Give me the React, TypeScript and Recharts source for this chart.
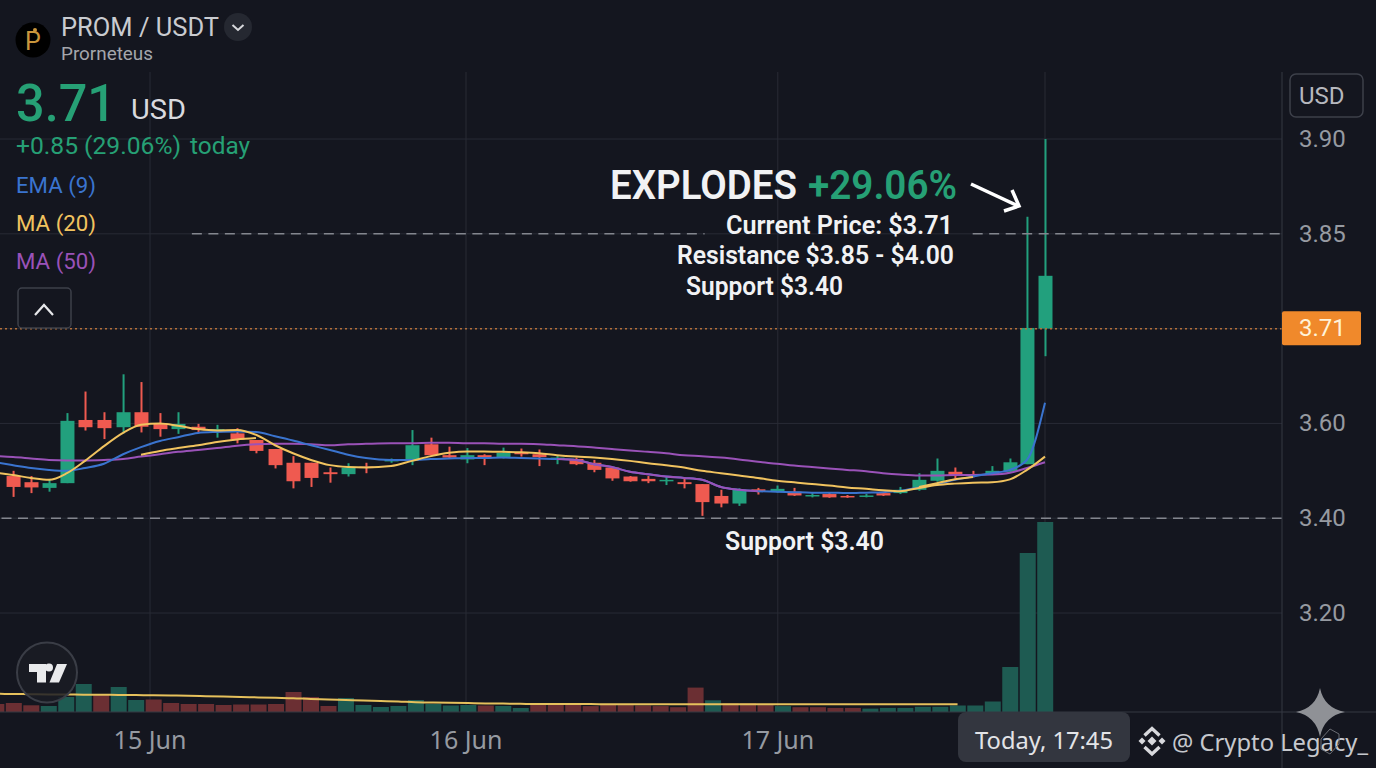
import React from "react";
import { Bar, CartesianGrid, ComposedChart, Line, ReferenceLine, XAxis, YAxis } from "recharts";

// ---- price-axis ticks: the reference's axis is evenly spaced per label, not per price
const priceTicks = [3.2, 3.4, 3.6, 3.71, 3.85, 3.9];
const supportPrice = 3.4;
const lastPrice = 3.71;
const resistancePrice = 3.85;

// ---- time axis: hours since 15 Jun 00:00
const dateTickHours = [0, 24.16, 48];
const dateTickLabels = ["15 Jun", "16 Jun", "17 Jun"];
const nowHour = 68.43;
const nowLabel = "Today, 17:45";
const hourDomain = [-11.47, 86.55];

// ---- candles
const candleHours = [-10.47, -9.1, -7.72, -6.35, -4.97, -3.52, -2.06, -0.69, 0.76, 2.14, 3.67, 5.12, 6.65, 8.1, 9.56, 10.93, 12.31, 13.76, 15.14, 16.51, 18.43, 20.03, 21.48, 22.86, 24.23, 25.54, 26.99, 28.36, 29.74, 31.12, 32.57, 33.94, 35.32, 36.7, 38.07, 39.45, 40.83, 42.2, 43.65, 45.03, 46.48, 47.94, 49.24, 50.61, 51.91, 53.29, 54.74, 56.04, 57.34, 58.79, 60.17, 61.54, 62.92, 64.37, 65.75, 67.05, 68.43];
const opens = [3.489, 3.476, 3.464, 3.474, 3.604, 3.604, 3.592, 3.613, 3.6, 3.588, 3.593, 3.583, 3.579, 3.565, 3.546, 3.517, 3.517, 3.497, 3.493, 3.509, 3.521, 3.523, 3.556, 3.533, 3.524, 3.533, 3.528, 3.539, 3.535, 3.526, 3.525, 3.517, 3.507, 3.488, 3.483, 3.478, 3.476, 3.472, 3.447, 3.431, 3.461, 3.457, 3.456, 3.446, 3.451, 3.447, 3.445, 3.453, 3.453, 3.46, 3.479, 3.498, 3.493, 3.493, 3.498, 3.514, 3.71];
const closes = [3.466, 3.465, 3.474, 3.603, 3.592, 3.59, 3.613, 3.593, 3.588, 3.599, 3.586, 3.588, 3.566, 3.542, 3.512, 3.478, 3.485, 3.493, 3.507, 3.506, 3.523, 3.554, 3.533, 3.528, 3.533, 3.526, 3.538, 3.535, 3.529, 3.528, 3.514, 3.502, 3.484, 3.478, 3.478, 3.481, 3.472, 3.434, 3.431, 3.46, 3.457, 3.462, 3.448, 3.449, 3.444, 3.445, 3.448, 3.448, 3.46, 3.481, 3.5, 3.489, 3.49, 3.5, 3.518, 3.711, 3.788];
const highs = [3.5, 3.489, 3.483, 3.612, 3.637, 3.613, 3.657, 3.648, 3.612, 3.613, 3.599, 3.597, 3.59, 3.565, 3.546, 3.531, 3.517, 3.507, 3.516, 3.517, 3.526, 3.586, 3.57, 3.551, 3.548, 3.535, 3.549, 3.547, 3.545, 3.533, 3.528, 3.523, 3.507, 3.489, 3.489, 3.489, 3.484, 3.472, 3.46, 3.463, 3.464, 3.469, 3.464, 3.453, 3.454, 3.449, 3.451, 3.454, 3.466, 3.495, 3.526, 3.507, 3.5, 3.51, 3.526, 3.859, 3.9];
const lows = [3.445, 3.453, 3.456, 3.474, 3.585, 3.567, 3.579, 3.581, 3.572, 3.578, 3.582, 3.57, 3.558, 3.537, 3.505, 3.463, 3.466, 3.475, 3.488, 3.495, 3.517, 3.512, 3.531, 3.526, 3.516, 3.512, 3.526, 3.53, 3.51, 3.514, 3.512, 3.497, 3.479, 3.477, 3.474, 3.47, 3.463, 3.405, 3.423, 3.426, 3.45, 3.454, 3.447, 3.444, 3.443, 3.443, 3.444, 3.447, 3.451, 3.458, 3.477, 3.484, 3.486, 3.491, 3.497, 3.514, 3.678];

// ---- moving averages, one value per candle
const ema9 = [3.512, 3.506, 3.502, 3.5, 3.506, 3.515, 3.535, 3.55, 3.563, 3.571, 3.58, 3.582, 3.583, 3.582, 3.573, 3.564, 3.554, 3.544, 3.534, 3.527, 3.523, 3.523, 3.525, 3.526, 3.527, 3.527, 3.528, 3.527, 3.526, 3.525, 3.523, 3.514, 3.508, 3.498, 3.493, 3.488, 3.485, 3.481, 3.466, 3.46, 3.457, 3.456, 3.455, 3.454, 3.454, 3.453, 3.454, 3.455, 3.458, 3.465, 3.472, 3.481, 3.488, 3.495, 3.502, 3.523, 3.624];
const ma20 = [3.491, 3.485, 3.481, 3.495, 3.521, 3.552, 3.58, 3.597, 3.6, 3.595, 3.588, 3.585, 3.586, 3.576, 3.554, 3.537, 3.523, 3.512, 3.508, 3.507, 3.51, 3.521, 3.531, 3.538, 3.541, 3.541, 3.54, 3.539, 3.537, 3.533, 3.53, 3.528, 3.525, 3.521, 3.516, 3.512, 3.507, 3.5, 3.495, 3.49, 3.485, 3.479, 3.476, 3.472, 3.469, 3.465, 3.462, 3.459, 3.457, 3.464, 3.47, 3.473, 3.475, 3.476, 3.482, 3.502, 3.53];
const ma50 = [3.529, 3.526, 3.523, 3.522, 3.522, 3.523, 3.525, 3.53, 3.535, 3.54, 3.544, 3.548, 3.553, 3.556, 3.557, 3.557, 3.556, 3.554, 3.556, 3.557, 3.558, 3.558, 3.559, 3.559, 3.558, 3.558, 3.557, 3.557, 3.556, 3.554, 3.552, 3.549, 3.546, 3.543, 3.54, 3.537, 3.533, 3.531, 3.528, 3.524, 3.519, 3.515, 3.511, 3.508, 3.505, 3.502, 3.499, 3.495, 3.492, 3.49, 3.49, 3.491, 3.491, 3.492, 3.496, 3.506, 3.518];
// the three averages enter from just left of the visible window
const leadInHour = -11.85;
const leadInEma = 3.518;
const leadInMa20 = 3.496;
const leadInMa50 = 3.531;
// the picture also shows short doubled strands of MA (20) and MA (50)
const ma20SecondStrand: Record<number, number> = { 7: 3.534, 8: 3.542, 9: 3.548, 10: 3.554, 11: 3.561, 12: 3.566, 13: 3.569, 49: 3.466, 50: 3.474, 51: 3.482, 52: 3.487 };
const ma50SecondStrand: Record<number, number> = { 29: 3.525, 30: 3.523, 31: 3.514, 32: 3.508, 33: 3.498, 34: 3.493, 35: 3.488, 36: 3.485, 37: 3.481, 38: 3.466, 39: 3.46, 40: 3.457 };

// ---- volume pane
const firstVolumeHour = -11.77;
const volumeStepHours = 1.3366;
const volumes = [8, 9, 6.7, 6, 15, 28, 17, 25, 12, 12.5, 9, 8, 8, 7, 7.5, 7.5, 8, 20, 15, 6, 14, 7, 5, 6, 12, 8, 6.5, 7, 6.5, 6, 4, 8.3, 7.6, 7.6, 5.9, 7.6, 6.9, 6.5, 5.9, 4.8, 24.4, 11.7, 8.6, 8.6, 6.9, 5.9, 4.8, 4.8, 4.1, 4.1, 3.4, 4.1, 4.1, 5.2, 5.2, 6.5, 6.5, 10.5, 45, 159, 190];
const volumeDirections = "rrrgggrggrrrrrrrrrrrggggggggrggrrrrrrrrrrgrrrgrrrrggggggggggg";
const volumeMa = [18.2, 18, 17.8, 17.6, 17.5, 17.3, 17.2, 17.1, 16.9, 16.8, 16.5, 16.2, 15.8, 15.4, 15, 14.6, 14.2, 13.8, 13, 12.6, 12, 11.5, 11, 10.5, 9.8, 9.5, 9.2, 8.9, 8.6, 8.4, 8.2, 8, 8, 7.9, 7.9, 7.8, 7.8, 7.8, 7.8, 7.8, 7.8, 7.8, 7.8, 7.7, 7.7, 7.7, 7.7, 7.7, 7.7, 7.7, 7.7, 7.7, 7.7, 7.7, 7.7, 7.7];

const C = {
  bg: "#14161f",
  grid: "#282b35",
  axisLine: "#353842",
  axisText: "#969921",
  up: "#22a07d",
  down: "#ef5a50",
  volUp: "#1e5b52",
  volDown: "#6b2f33",
  ema: "#3a74cf",
  ma20: "#f1c35f",
  ma50: "#9a52b8",
  dash: "#83868e",
  orange: "#f0892b",
  green: "#26a075",
  white: "#f1f2f4",
};
C.axisText = "#969aa1";
const SANS = "Roboto, sans-serif";
const NOTO = "'Noto Sans', sans-serif";

// maps a price to its place on the evenly spaced label axis
function toAxis(price: number): number {
  for (let i = 0; i < priceTicks.length - 1; i++) {
    if (price <= priceTicks[i + 1] || i === priceTicks.length - 2) {
      return i + (price - priceTicks[i]) / (priceTicks[i + 1] - priceTicks[i]);
    }
  }
  return 0;
}
const axisDomain = [-1.044, 5.707];
const axisTicks = priceTicks.map((_, i) => i);

const candleRows: any[] = [
  { hour: leadInHour, open: null, close: null, range: null, up: true, ema: toAxis(leadInEma), ma20: toAxis(leadInMa20), ma50: toAxis(leadInMa50), ma20b: null, ma50b: null },
  ...candleHours.map((hour, i) => ({
    hour,
    open: toAxis(opens[i]),
    close: toAxis(closes[i]),
    range: [toAxis(lows[i]), toAxis(highs[i])],
    up: closes[i] >= opens[i],
    ema: toAxis(ema9[i]),
    ma20: toAxis(ma20[i]),
    ma50: toAxis(ma50[i]),
    ma20b: ma20SecondStrand[i] === undefined ? null : toAxis(ma20SecondStrand[i]),
    ma50b: ma50SecondStrand[i] === undefined ? null : toAxis(ma50SecondStrand[i]),
  })),
];

const volumeRows = volumes.map((volume, i) => ({
  hour: firstVolumeHour + i * volumeStepHours,
  volume,
  up: volumeDirections[i] === "g",
  volumeMa: i < volumeMa.length ? volumeMa[i] : null,
}));

function CandleShape(props: any) {
  const { x, width, y, height, payload } = props;
  if (!payload || !payload.range) return null;
  const [lo, hi] = payload.range;
  const at = (v: number) => y + (height * (hi - v)) / (hi - lo);
  const center = x + width / 2;
  const color = payload.up ? C.up : C.down;
  const top = at(Math.max(payload.open, payload.close));
  const bottom = at(Math.min(payload.open, payload.close));
  return (
    <g>
      <rect x={center - 1} y={y} width={2} height={height} fill={color} />
      <rect x={center - 7} y={top} width={14} height={Math.max(bottom - top, 1.5)} fill={color} />
    </g>
  );
}

function VolumeShape(props: any) {
  const { x, width, y, height, payload } = props;
  const center = x + width / 2;
  return <rect x={center - 8} y={y} width={16} height={height} fill={payload.up ? C.volUp : C.volDown} />;
}

function TimeTick(props: any) {
  const { x, y, payload } = props;
  if (payload.value === nowHour) {
    return (
      <g>
        <rect x={x - 87} y={y} width={172} height={50} rx={8} fill="#33363f" />
        <text x={x - 1} y={y + 37} textAnchor="middle" fontFamily={NOTO} fontSize={23.7} fill="#e3e4e7">
          {nowLabel}
        </text>
      </g>
    );
  }
  const label = dateTickLabels[dateTickHours.indexOf(payload.value)];
  return (
    <text x={x} y={y + 37} textAnchor="middle" fontFamily={NOTO} fontSize={25} fill={C.axisText}>
      {label}
    </text>
  );
}

function PriceTick(props: any) {
  const { x, y, payload } = props;
  const price = priceTicks[payload.value];
  if (price === lastPrice) {
    return (
      <g>
        <rect x={x} y={y - 17.5} width={79} height={34} rx={2} fill={C.orange} />
        <text x={x + 17} y={y + 7.5} fontFamily={SANS} fontSize={24} fill="#fff3d9">
          {price.toFixed(2)}
        </text>
      </g>
    );
  }
  return (
    <text x={x + 17} y={y + 8} fontFamily={SANS} fontSize={24} fill={C.axisText}>
      {price.toFixed(2)}
    </text>
  );
}

const gridHours = [...dateTickHours, nowHour];

function Overlay() {
  return (
    <svg width={1376} height={768} style={{ position: "absolute", left: 0, top: 0, pointerEvents: "none" }}>
      {/* axis frame */}
      <line x1={1282} x2={1376} y1={712} y2={712} stroke={C.axisLine} />
      <line x1={1282} x2={1282} y1={712} y2={768} stroke={C.axisLine} />
      <rect x={1290} y={74} width={73} height={43} rx={6} fill="none" stroke="#3d404a" strokeWidth={1.5} />
      <text x={1299} y={104} fontFamily={SANS} fontSize={24} fill="#b6b8be">USD</text>

      {/* header */}
      <circle cx={33} cy={40} r={17.5} fill="#000" />
      <circle cx={35} cy={30} r={2} fill="#c9963c" />
      <text x={33} y={50} textAnchor="middle" fontFamily={SANS} fontWeight={400} fontSize={25} fill="#c9963c">P</text>
      <text x={61} y={36} fontFamily={SANS} fontWeight={400} fontSize={26} fill="#c9cbd0" textLength={158} lengthAdjust="spacingAndGlyphs">PROM / USDT</text>
      <circle cx={238} cy={27} r={14} fill="#252831" />
      <polyline points="232.5,25 238,30 243.5,25" fill="none" stroke="#d7d8dc" strokeWidth={2} />
      <text x={61} y={60} fontFamily={SANS} fontSize={19} fill="#a4a6ac" textLength={92} lengthAdjust="spacingAndGlyphs">Prorneteus</text>
      <text x={16} y={121} fontFamily={SANS} fontWeight={500} fontSize={52} fill={C.green} textLength={100} lengthAdjust="spacingAndGlyphs">3.71</text>
      <text x={131} y={119} fontFamily={SANS} fontWeight={400} fontSize={27} fill="#d9dadf" textLength={55} lengthAdjust="spacingAndGlyphs">USD</text>
      <text x={16} y={154} fontFamily={SANS} fontSize={24} fill={C.green} textLength={165} lengthAdjust="spacingAndGlyphs">+0.85 (29.06%)</text>
      <text x={190} y={154} fontFamily={SANS} fontSize={24} fill={C.green} textLength={60} lengthAdjust="spacingAndGlyphs">today</text>
      <text x={16} y={193} fontFamily={SANS} fontSize={22} fill={C.ema} textLength={80} lengthAdjust="spacingAndGlyphs">EMA (9)</text>
      <text x={16} y={231} fontFamily={SANS} fontSize={22} fill={C.ma20} textLength={80} lengthAdjust="spacingAndGlyphs">MA (20)</text>
      <text x={16} y={269} fontFamily={SANS} fontSize={22} fill={C.ma50} textLength={80} lengthAdjust="spacingAndGlyphs">MA (50)</text>
      <rect x={18} y={288} width={53} height={40} rx={4} fill={C.bg} stroke="#3d404a" strokeWidth={1.5} />
      <polyline points="35,315 44,305 53,315" fill="none" stroke="#e6e7ea" strokeWidth={2.2} />

      {/* annotations */}
      <text x={610} y={199} fontFamily={SANS} fontWeight={600} fontSize={41} fill={C.white} textLength={187} lengthAdjust="spacingAndGlyphs">EXPLODES</text>
      <text x={808} y={199} fontFamily={SANS} fontWeight={600} fontSize={41} fill={C.green} textLength={149} lengthAdjust="spacingAndGlyphs">+29.06%</text>
      <polyline points="971,184 1018,206" fill="none" stroke="#fff" strokeWidth={3.5} />
      <polyline points="1012,190 1019,206 1004,211" fill="none" stroke="#fff" strokeWidth={3.5} />
      <text x={726} y={234} fontFamily={SANS} fontWeight={600} fontSize={26} fill={C.white} textLength={227} lengthAdjust="spacingAndGlyphs">Current Price: $3.71</text>
      <text x={677} y={264} fontFamily={SANS} fontWeight={600} fontSize={26} fill={C.white} textLength={277} lengthAdjust="spacingAndGlyphs">Resistance $3.85 - $4.00</text>
      <text x={686} y={295} fontFamily={SANS} fontWeight={600} fontSize={26} fill={C.white} textLength={157} lengthAdjust="spacingAndGlyphs">Support $3.40</text>
      <text x={725} y={550} fontFamily={SANS} fontWeight={600} fontSize={26} fill={C.white} textLength={159} lengthAdjust="spacingAndGlyphs">Support $3.40</text>

      {/* logo badge */}
      <circle cx={47} cy={672.5} r={30} fill="#1a1c25" fillOpacity={0.85} stroke="#3a3d46" strokeWidth={2} />
      <polygon points="29,664 46,664 46,682.5 37,682.5 37,672 29,672" fill="#e9eaec" />
      <circle cx={49} cy={667.5} r={4} fill="#e9eaec" />
      <polygon points="57,664 67,664 59,682.5 49.5,682.5" fill="#e9eaec" />

      {/* watermark */}
      <g fill="none" stroke="#d8d9dd" strokeWidth={3.4}>
        <polyline points="1144.5,735.5 1152,728.5 1159.5,735.5" />
        <polyline points="1144.5,747 1152,754 1159.5,747" />
      </g>
      <g fill="#d8d9dd">
        <polygon points="1142,737.5 1145.5,741 1142,744.5 1138.5,741" />
        <polygon points="1162,737.5 1165.5,741 1162,744.5 1158.5,741" />
        <polygon points="1152,736.5 1156.5,741 1152,745.5 1147.5,741" />
      </g>
      <text x={1172} y={751} fontFamily={NOTO} fontSize={23.5} fill="#c6c8cd" textLength={196} lengthAdjust="spacingAndGlyphs">@ Crypto Legacy_</text>
      <path d="M1320,688 Q1324,708 1345,712 Q1324,716 1320,737 Q1316,716 1296,712 Q1316,708 1320,688 Z" fill="#8f9196" />
      <polygon points="1330,729 1339,734 1339,744 1330,754 1321,749 1321,739" fill="none" stroke="#6b6d74" strokeWidth={1} />
    </svg>
  );
}

export default function App() {
  const lastY = toAxis(lastPrice);
  const resY = toAxis(resistancePrice);
  const supY = toAxis(supportPrice);
  return (
    <div style={{ position: "absolute", left: 0, top: 0, width: 1376, height: 768, background: C.bg, overflow: "hidden" }}>
      <div style={{ position: "absolute", left: 0, top: 0 }}>
        <ComposedChart width={1376} height={768} data={volumeRows} margin={{ top: 72, right: 94, bottom: 0, left: 0 }}>
          <CartesianGrid yAxisId="price" stroke={C.grid} syncWithTicks />
          <XAxis
            type="number"
            dataKey="hour"
            domain={hourDomain}
            allowDataOverflow
            ticks={gridHours}
            interval={0}
            height={56}
            tickLine={false}
            tickSize={0}
            tickMargin={0}
            axisLine={{ stroke: C.axisLine }}
            tick={<TimeTick />}
          />
          <YAxis yAxisId="price" hide type="number" domain={axisDomain} ticks={axisTicks} interval={0} allowDataOverflow />
          <YAxis yAxisId="volume" hide domain={[0, 640]} />
          <Bar yAxisId="volume" dataKey="volume" barSize={16} isAnimationActive={false} shape={<VolumeShape />} />
          <Line yAxisId="volume" dataKey="volumeMa" type="monotone" stroke="#e6c15c" strokeWidth={2} dot={false} isAnimationActive={false} />
        </ComposedChart>
      </div>
      <div style={{ position: "absolute", left: 0, top: 0 }}>
        <ComposedChart width={1376} height={768} data={candleRows} margin={{ top: 72, right: 0, bottom: 56, left: 0 }}>
          <XAxis type="number" dataKey="hour" domain={hourDomain} allowDataOverflow hide />
          <YAxis
            orientation="right"
            type="number"
            width={94}
            domain={axisDomain}
            ticks={axisTicks}
            interval={0}
            allowDataOverflow
            tickLine={false}
            tickSize={0}
            tickMargin={0}
            axisLine={{ stroke: C.axisLine }}
            tick={<PriceTick />}
          />
          <ReferenceLine segment={[{ x: 3.2, y: resY }, { x: 42.4, y: resY }]} stroke={C.dash} strokeDasharray="10 6.5" strokeWidth={1.5} />
          <ReferenceLine segment={[{ x: 62.9, y: resY }, { x: 86.55, y: resY }]} stroke={C.dash} strokeDasharray="10 6.5" strokeWidth={1.5} />
          <ReferenceLine y={supY} stroke={C.dash} strokeDasharray="10 6.5" strokeWidth={1.5} />
          <ReferenceLine y={lastY} stroke="#b5703a" strokeDasharray="2 3" strokeWidth={1.5} />
          <Bar dataKey="range" barSize={14} isAnimationActive={false} shape={<CandleShape />} />
          <Line dataKey="ma50" type="monotone" stroke={C.ma50} strokeWidth={2} dot={false} isAnimationActive={false} />
          <Line dataKey="ema" type="monotone" stroke={C.ema} strokeWidth={2} dot={false} isAnimationActive={false} />
          <Line dataKey="ma50b" type="monotone" stroke={C.ma50} strokeWidth={2} dot={false} isAnimationActive={false} />
          <Line dataKey="ma20b" type="monotone" stroke={C.ma20} strokeWidth={2} dot={false} isAnimationActive={false} />
          <Line dataKey="ma20" type="monotone" stroke={C.ma20} strokeWidth={2} dot={false} isAnimationActive={false} />
        </ComposedChart>
      </div>
      <Overlay />
    </div>
  );
}
